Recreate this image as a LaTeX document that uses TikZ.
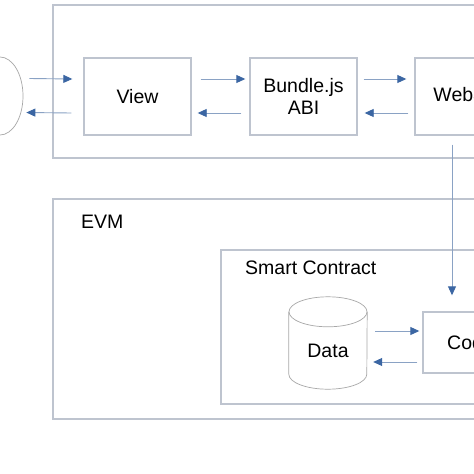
\documentclass[tikz,border=0pt]{standalone}
\usepackage{fontspec}
\setmainfont{Liberation Sans}
\usetikzlibrary{arrows.meta,shapes.geometric}
\definecolor{boxc}{HTML}{BEC4CF}
\definecolor{arrline}{HTML}{8AA2C4}
\definecolor{arrhead}{HTML}{3B66A3}
\definecolor{shapec}{HTML}{A8A8A8}
\begin{document}
\begin{tikzpicture}[x=1pt,y=-1pt,
  frame/.style={draw=boxc,line width=1.4pt},
  blk/.style={draw=boxc,line width=1.4pt,fill=white,minimum width=107pt,minimum height=77pt,inner sep=0pt,font=\fontsize{19.5}{22}\selectfont,align=center},
  lbl/.style={font=\fontsize{19.5}{22}\selectfont,inner sep=0pt,anchor=base west},
  arr/.style={draw=arrline,line width=0.9pt,-{Triangle[length=9pt,width=8pt,color=arrhead]}}]
\useasboundingbox (0,0) rectangle (474,474);
\clip (0,0) rectangle (474,474);
\fill[white] (0,0) rectangle (474,474);
% frames
\draw[frame] (53,5) rectangle (540,158);
\draw[frame] (53,199) rectangle (540,419);
\draw[frame] (221,250) rectangle (540,404);
\node[lbl] (evm) at (81,228) {EVM};
\node[lbl] (sc) at (245,274) {Smart Contract};
% user ellipse
\node[ellipse,draw=shapec,line width=0.7pt,minimum width=46pt,minimum height=78pt,inner sep=0pt] (user) at (0,96) {};
% blocks
\node[blk] (view) at (137.5,96.5) {View};
\node[blk] (bundle) at (303.5,96.5) {Bundle.js\\ABI};
\node[blk] (web) at (468.5,96.5) {Web3.js};
\node[blk,minimum width=95pt,minimum height=61pt] (code) at (470.5,342.5) {Code};
% data cylinder
\node[minimum width=78pt,minimum height=92pt,inner sep=0pt] (data) at (328,343) {};
\draw[shapec,line width=0.7pt] ([yshift=-15pt]data.north) ellipse [x radius=39pt,y radius=15pt];
\draw[shapec,line width=0.7pt] ([yshift=-15pt]data.north west) -- ([yshift=15pt]data.south west)
  arc[start angle=180,end angle=360,x radius=39pt,y radius=15pt] -- ([yshift=-15pt]data.north east);
\node[lbl,anchor=base] (datalbl) at (328,357) {Data};
% arrows
\draw[arr] ([xshift=6pt,yshift=17.5pt]user.east) -- ([xshift=-11pt,yshift=17.5pt]view.west);
\draw[arr] ([xshift=-12pt,yshift=-16.5pt]view.west) -- ([xshift=3pt,yshift=-16.5pt]user.east);
\draw[arr] ([xshift=9pt,yshift=17.5pt]view.east) -- ([xshift=-4pt,yshift=17.5pt]bundle.west);
\draw[arr] ([xshift=-8pt,yshift=-16.5pt]bundle.west) -- ([xshift=6pt,yshift=-16.5pt]view.east);
\draw[arr] ([xshift=6pt,yshift=17.5pt]bundle.east) -- ([xshift=-8pt,yshift=17.5pt]web.west);
\draw[arr] ([xshift=-6pt,yshift=-16.5pt]web.west) -- ([xshift=7pt,yshift=-16.5pt]bundle.east);
\draw[arr] ([xshift=-16.5pt,yshift=-9pt]web.south) -- ([xshift=-18.5pt,yshift=16pt]code.north);
\draw[arr] ([xshift=8pt,yshift=12pt]data.east) -- ([xshift=-3pt,yshift=11.5pt]code.west);
\draw[arr] ([xshift=-5pt,yshift=-19.5pt]code.west) -- ([xshift=6pt,yshift=-19pt]data.east);
\end{tikzpicture}
\end{document}
